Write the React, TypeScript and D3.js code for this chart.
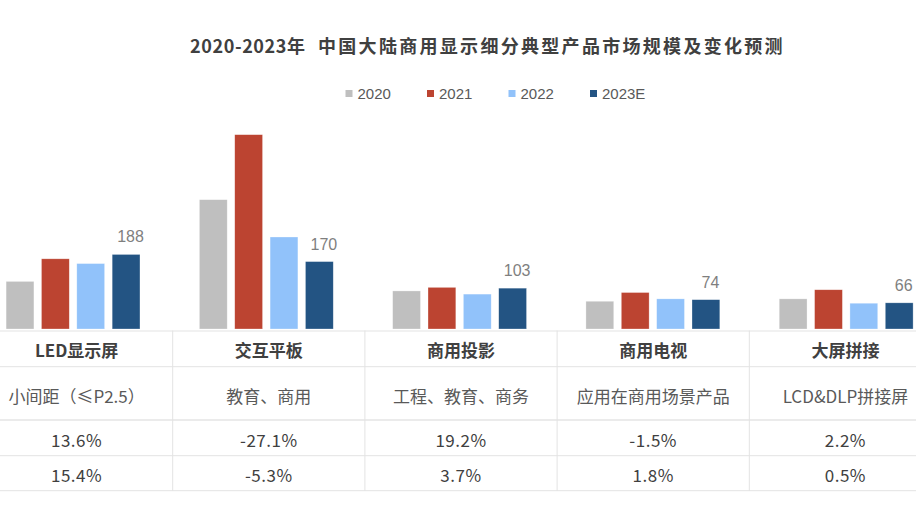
import React from "react";
import * as d3 from "d3";

const categories = ["LED显示屏", "交互平板", "商用投影", "商用电视", "大屏拼接"];
const seriesNames = ["2020", "2021", "2022", "2023E"];
const values2020 = [120, 326, 96, 70, 76];
const values2021 = [177, 490, 105, 92, 99];
const values2022 = [165, 232, 88, 76, 65];
const values2023E = [188, 170, 103, 74, 66];
const applications = ["小间距（≤P2.5）", "教育、商用", "工程、教育、商务", "应用在商用场景产品", "LCD&DLP拼接屏"];
const rowA = ["13.6%", "-27.1%", "19.2%", "-1.5%", "2.2%"];
const rowB = ["15.4%", "-5.3%", "3.7%", "1.8%", "0.5%"];

const colors = ["#BFBFBF", "#BC4431", "#91C2FA", "#235483"];
const titleYears = "2020-2023年";
const titleMain = "中国大陆商用显示细分典型产品市场规模及变化预测";

const W = 916;
const H = 516;
const CJK = "'Noto Sans CJK SC', 'Noto Sans', sans-serif";
const LAT = "'Liberation Sans', Arial, sans-serif";

export default function App() {
  const series = [values2020, values2021, values2022, values2023E];

  const x0 = d3.scaleBand<string>().domain(categories).range([-23.6, 942.8]).paddingInner(0).paddingOuter(0);
  const x1 = d3
    .scaleBand<string>()
    .domain(seriesNames)
    .range([0, x0.bandwidth()])
    .paddingInner(0.213)
    .paddingOuter(0.84);
  const y = d3.scaleLinear().domain([0, 500]).range([329, 130.7]);

  const xt = d3.scaleBand<string>().domain(categories).range([-19.5, 941.5]);

  const rowLines = [331, 366.7, 420, 455.7, 490.7];
  const rowCenters = [349.5, 395, 439, 474];

  const legendX = d3.scaleLinear().domain([0, 3]).range([345.5, 590]);

  return (
    <svg width={W} height={H} style={{ position: "absolute", left: 0, top: 0, background: "#fff" }}>
      <rect x={0} y={0} width={W} height={H} fill="#fff" />
      <text y={53} fontFamily={CJK} fontWeight="bold" fontSize={18} fill="#404040">
        <tspan x={190} letterSpacing={0.6}>{titleYears}</tspan>
        <tspan x={318} letterSpacing={2.3}>{titleMain}</tspan>
      </text>

      {seriesNames.map((s, i) => (
        <g key={s} transform={`translate(${legendX(i)},0)`}>
          <rect x={0} y={90} width={7} height={7} fill={colors[i]} />
          <text x={12} y={99} fontFamily={LAT} fontSize={15} fill="#595959">
            {s}
          </text>
        </g>
      ))}

      {categories.map((c, ci) => (
        <g key={c} transform={`translate(${x0(c)},0)`}>
          {series.map((vals, si) => (
            <rect
              key={si}
              x={x1(seriesNames[si])}
              y={y(vals[ci])}
              width={x1.bandwidth()}
              height={y(0) - y(vals[ci])}
              fill={colors[si]}
              stroke="#ffffff"
              strokeOpacity={0.5}
              strokeWidth={0.6}
            />
          ))}
          <text
            x={(x1("2023E") as number) + x1.bandwidth() / 2 + 4.5}
            y={y(values2023E[ci]) - 12}
            textAnchor="middle"
            fontFamily={LAT}
            fontSize={16}
            fill="#7F7F7F"
          >
            {values2023E[ci]}
          </text>
        </g>
      ))}

      {rowLines.map((ly, i) => (
        <line
          key={i}
          x1={0}
          x2={W}
          y1={ly}
          y2={ly}
          stroke={i === 2 ? "#EBEBEB" : "#E3E3E3"}
          strokeWidth={i === 2 ? 2 : 1}
        />
      ))}
      {categories.slice(1).map((c) => (
        <line key={c} x1={xt(c)} x2={xt(c)} y1={330.5} y2={491} stroke="#E3E3E3" strokeWidth={1} />
      ))}

      {categories.map((c, ci) => {
        const cx = (xt(c) as number) + xt.bandwidth() / 2;
        return (
          <g key={c}>
            <text x={cx} y={rowCenters[0]} textAnchor="middle" dominantBaseline="central" fontFamily={CJK} fontWeight="bold" fontSize={17} fill="#404040">
              {c}
            </text>
            <text x={cx} y={rowCenters[1]} textAnchor="middle" dominantBaseline="central" fontFamily={CJK} fontSize={17} fill="#595959">
              {applications[ci]}
            </text>
            <text x={cx} y={rowCenters[2]} textAnchor="middle" dominantBaseline="central" fontFamily={CJK} fontSize={17} letterSpacing={0.5} fill="#404040">
              {rowA[ci]}
            </text>
            <text x={cx} y={rowCenters[3]} textAnchor="middle" dominantBaseline="central" fontFamily={CJK} fontSize={17} letterSpacing={0.5} fill="#404040">
              {rowB[ci]}
            </text>
          </g>
        );
      })}
    </svg>
  );
}
